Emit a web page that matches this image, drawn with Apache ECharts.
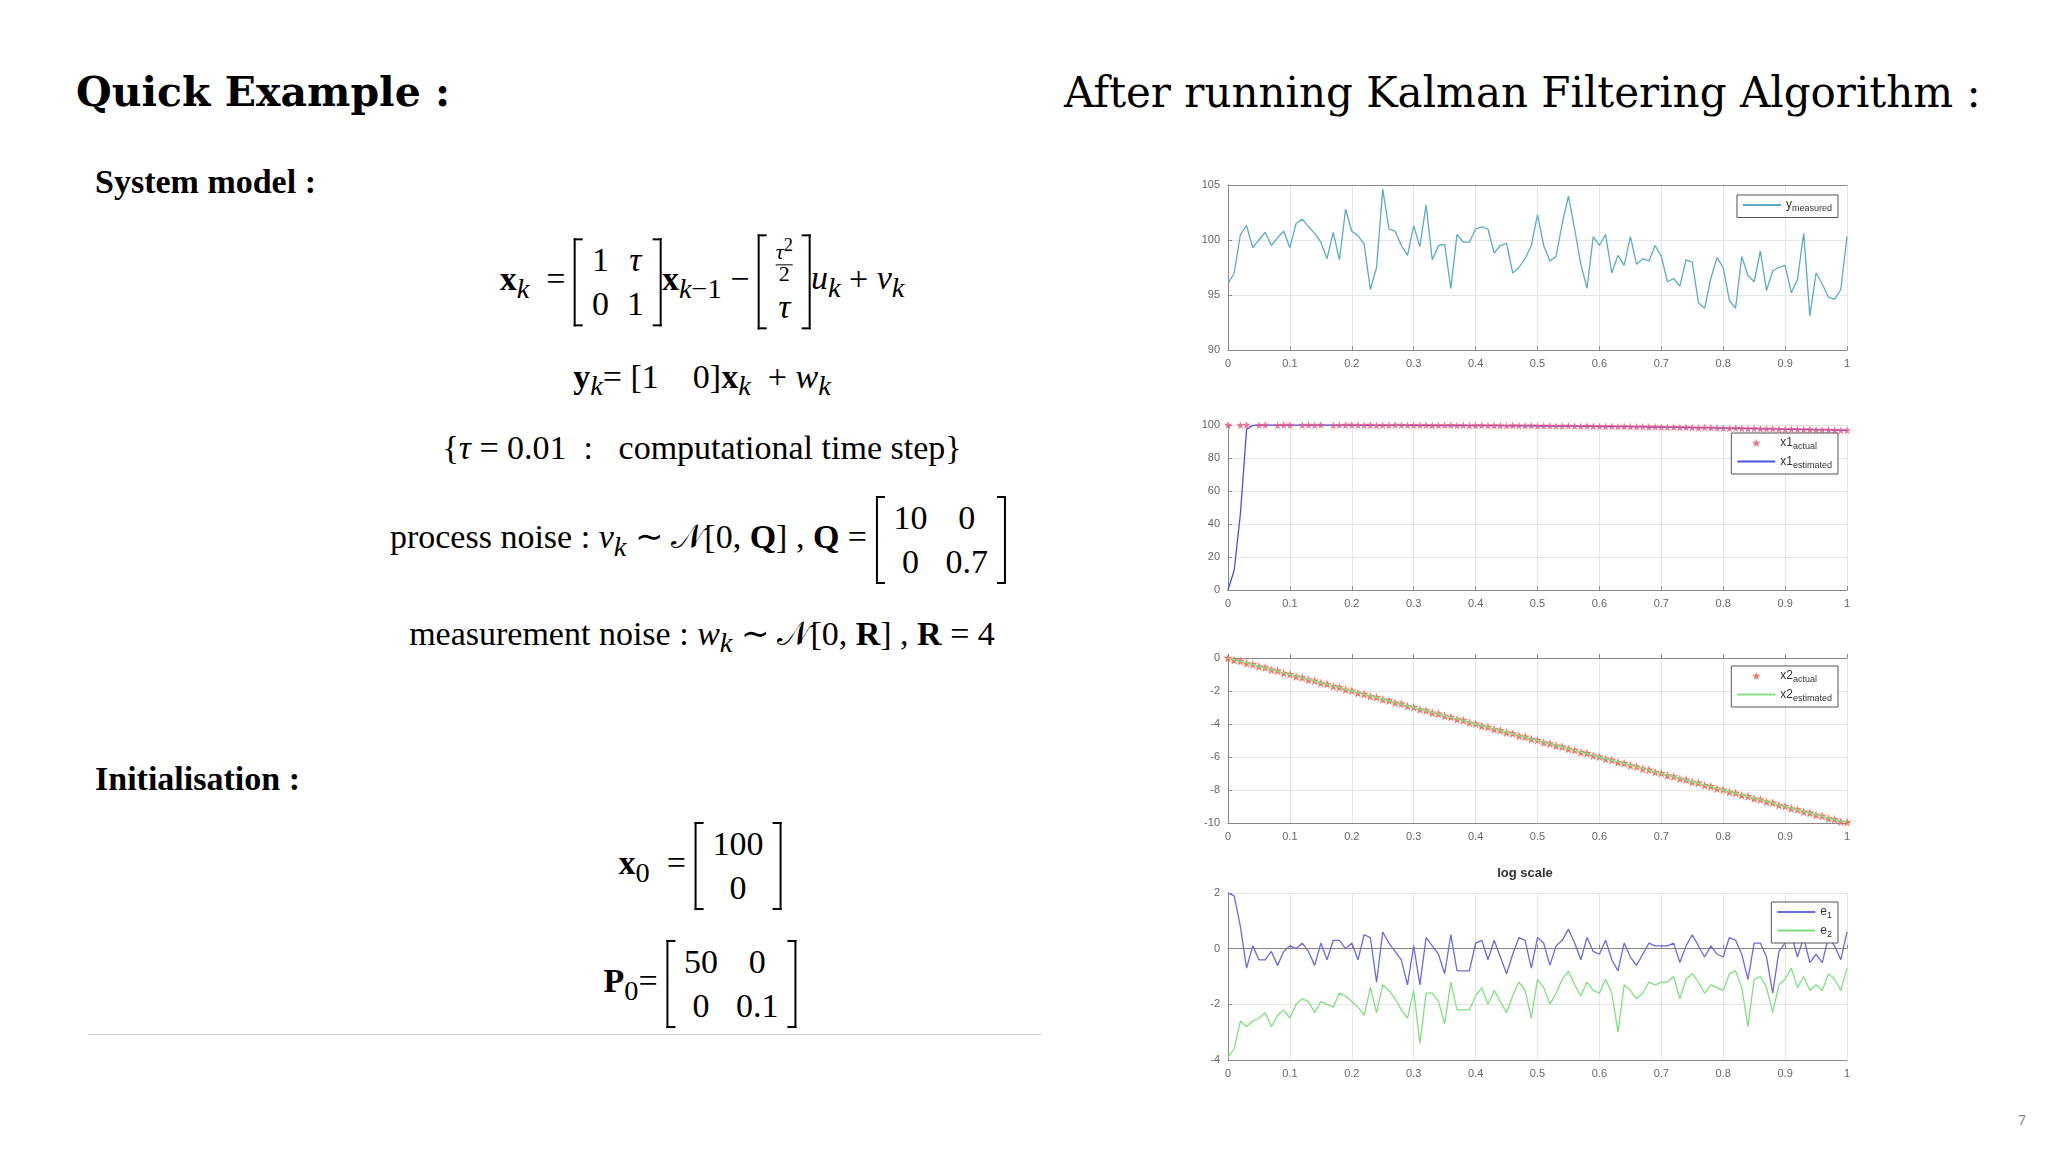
<!DOCTYPE html>
<html><head><meta charset="utf-8">
<script src="https://cdn.jsdelivr.net/npm/echarts@6/dist/echarts.min.js"></script>
<style>
body{margin:0;width:2048px;height:1152px;background:#fff;position:relative;overflow:hidden;font-family:"DejaVu Serif","Liberation Serif",serif;}
.t{position:absolute;white-space:nowrap;color:#000;}
.eq{font-family:"Liberation Serif",serif;font-size:34px;transform:translate(-50%,-50%);}
.b{font-weight:bold;}
.mat{display:inline-block;vertical-align:middle;position:relative;padding:0 9px;}
.mat::before,.mat::after{content:'';position:absolute;top:0;bottom:0;width:7px;border:2px solid #000;}
.mat::before{left:0;border-right:none}
.mat::after{right:0;border-left:none}
.mat table{border-collapse:collapse;}
.mat td{padding:0 9px;text-align:center;line-height:44px;}
.chart{position:absolute;}
</style></head><body>
<div class="t b" style="left:76px;top:68px;font-family:'DejaVu Serif',serif;font-size:41px">Quick Example :</div>
<div class="t" style="left:1064px;top:68px;font-family:'DejaVu Serif',serif;font-size:42px">After running Kalman Filtering Algorithm :</div>

<div class="t b" style="left:95px;top:163px;font-family:'Liberation Serif',serif;font-size:34px">System model :</div>
<div class="t eq" style="left:702px;top:282px"><b>x</b><sub><i>k</i></sub> &nbsp;= <span class="mat"><table><tr><td>1</td><td><i>τ</i></td></tr><tr><td>0</td><td>1</td></tr></table></span><b>x</b><sub><i>k</i>−1</sub> − <span class="mat"><table><tr><td style="line-height:22px;font-size:22px"><span style="border-bottom:1px solid #000"><i>τ</i><sup>2</sup></span><br>2</td></tr><tr><td><i>τ</i></td></tr></table></span><i>u<sub>k</sub></i> + <i>v<sub>k</sub></i></div>
<div class="t eq" style="left:702px;top:380px"><b>y</b><sub><i>k</i></sub>= [1 &nbsp;&nbsp; 0]<b>x</b><sub><i>k</i></sub> &nbsp;+ <i>w<sub>k</sub></i></div>
<div class="t eq" style="left:702px;top:448px">{<i>τ</i> = 0.01 &nbsp;: &nbsp; computational time step}</div>
<div class="t eq" style="left:698px;top:540px">process noise : <i>v<sub>k</sub></i> ∼ 𝒩[0, <b>Q</b>] , <b>Q</b> = <span class="mat"><table><tr><td>10</td><td>0</td></tr><tr><td>0</td><td>0.7</td></tr></table></span></div>
<div class="t eq" style="left:702px;top:636px">measurement noise : <i>w<sub>k</sub></i> ∼ 𝒩[0, <b>R</b>] , <b>R</b> = 4</div>

<div class="t b" style="left:95px;top:760px;font-family:'Liberation Serif',serif;font-size:34px">Initialisation :</div>
<div class="t eq" style="left:700px;top:866px"><b>x</b><sub>0</sub> &nbsp;= <span class="mat"><table><tr><td>100</td></tr><tr><td>0</td></tr></table></span></div>
<div class="t eq" style="left:700px;top:984px"><b>P</b><sub>0</sub>= <span class="mat"><table><tr><td>50</td><td>0</td></tr><tr><td>0</td><td>0.1</td></tr></table></span></div>
<div style="position:absolute;left:88px;top:1034px;width:953px;height:1px;background:#ccc"></div>
<div class="t" style="left:2018px;top:1110px;font-size:14px;color:#888;font-family:'Noto Sans',sans-serif">7</div>

<div id="c1" class="chart" style="left:1180px;top:165px;width:690px;height:215px"></div>
<div id="c2" class="chart" style="left:1180px;top:405px;width:690px;height:215px"></div>
<div id="c3" class="chart" style="left:1180px;top:638px;width:690px;height:215px"></div>
<div id="c4" class="chart" style="left:1180px;top:862px;width:690px;height:228px"></div>
<script>
const time = ['0','0.01','0.02','0.03','0.04','0.05','0.06','0.07','0.08','0.09','0.1','0.11','0.12','0.13','0.14','0.15','0.16','0.17','0.18','0.19','0.2','0.21','0.22','0.23','0.24','0.25','0.26','0.27','0.28','0.29','0.3','0.31','0.32','0.33','0.34','0.35','0.36','0.37','0.38','0.39','0.4','0.41','0.42','0.43','0.44','0.45','0.46','0.47','0.48','0.49','0.5','0.51','0.52','0.53','0.54','0.55','0.56','0.57','0.58','0.59','0.6','0.61','0.62','0.63','0.64','0.65','0.66','0.67','0.68','0.69','0.7','0.71','0.72','0.73','0.74','0.75','0.76','0.77','0.78','0.79','0.8','0.81','0.82','0.83','0.84','0.85','0.86','0.87','0.88','0.89','0.9','0.91','0.92','0.93','0.94','0.95','0.96','0.97','0.98','0.99','1'].map(Number);

const yMeasured = [96,97,100.5,101.3,99.3,100,100.7,99.5,100.2,100.8,99.3,101.5,101.9,101.2,100.6,99.8,98.3,100.7,98.2,102.8,100.8,100.4,99.6,95.5,97.5,104.6,101,100.8,99.5,98.6,101.3,99.4,103.2,98.2,99.5,99.6,95.6,100.5,99.8,99.8,101,101.2,101,98.8,99.5,99.7,97,97.5,98.3,99.5,102.3,99.5,98.1,98.5,101.5,104,101,97.8,95.6,100.3,99.5,100.5,97,98.6,97.7,100.3,97.8,98.3,98.1,99.5,98.5,96.2,96.5,95.8,98.2,98,94.3,93.8,96.5,98.4,97.5,94.5,93.8,98.5,96.8,96.2,99,95.4,97.2,97.5,97.7,95.2,96.4,100.6,93.1,97,96,94.8,94.6,95.5,100.3];

const x1Actual = [100,100.1,99.9,100,100.2,99.9,100,100.1,99.8,100,100,100.1,99.9,100,99.9,100,100.1,99.8,99.9,100,100,99.9,99.9,100,99.7,99.9,99.8,100,99.9,99.8,99.9,99.8,99.9,99.7,99.8,99.8,99.9,99.7,99.8,99.6,99.7,99.8,99.6,99.7,99.6,99.5,99.7,99.6,99.5,99.6,99.4,99.5,99.5,99.3,99.4,99.5,99.3,99.2,99.4,99.2,99.2,99.1,99.2,99,99.1,99,98.9,99,98.8,98.9,98.7,98.6,98.7,98.5,98.6,98.4,98.2,98.4,98.3,98.2,98.1,98,98.1,97.9,97.8,97.9,97.7,97.6,97.7,97.5,97.4,97.5,97.3,97.2,97.3,97.1,97,97.1,96.9,96.8,96.8];
const x1Estimated = [0,12,46,97.5,99.8,99.9,100,100.1,99.9,100,100,100,99.9,100,99.9,100,100,99.9,99.9,100,100,99.9,99.8,99.9,99.8,99.9,99.8,99.9,99.9,99.8,99.9,99.8,99.8,99.7,99.8,99.7,99.8,99.7,99.7,99.6,99.7,99.7,99.6,99.6,99.6,99.5,99.6,99.5,99.5,99.5,99.4,99.5,99.4,99.3,99.4,99.4,99.3,99.2,99.3,99.2,99.1,99.1,99.1,99,99,99,98.9,98.9,98.8,98.8,98.7,98.6,98.6,98.5,98.5,98.4,98.3,98.3,98.2,98.1,98.1,98,98,97.9,97.8,97.8,97.7,97.6,97.6,97.5,97.4,97.4,97.3,97.2,97.2,97.1,97,97,96.9,96.8,96.8];

const x2Actual = [0,-0.12,-0.18,-0.32,-0.38,-0.52,-0.58,-0.72,-0.78,-0.92,-0.98,-1.12,-1.18,-1.32,-1.38,-1.52,-1.58,-1.72,-1.78,-1.92,-1.98,-2.12,-2.18,-2.32,-2.38,-2.52,-2.58,-2.72,-2.78,-2.92,-2.98,-3.12,-3.18,-3.32,-3.38,-3.52,-3.58,-3.72,-3.78,-3.92,-3.98,-4.12,-4.18,-4.32,-4.38,-4.52,-4.58,-4.72,-4.78,-4.92,-4.98,-5.12,-5.18,-5.32,-5.38,-5.52,-5.58,-5.72,-5.78,-5.92,-5.98,-6.12,-6.18,-6.32,-6.38,-6.52,-6.58,-6.72,-6.78,-6.92,-6.98,-7.12,-7.18,-7.32,-7.38,-7.52,-7.58,-7.72,-7.78,-7.92,-7.98,-8.12,-8.18,-8.32,-8.38,-8.52,-8.58,-8.72,-8.78,-8.92,-8.98,-9.12,-9.18,-9.32,-9.38,-9.52,-9.58,-9.72,-9.78,-9.92,-9.95];
const x2Estimated = [0,-0.1,-0.2,-0.3,-0.4,-0.5,-0.6,-0.7,-0.8,-0.9,-1,-1.1,-1.2,-1.3,-1.4,-1.5,-1.6,-1.7,-1.8,-1.9,-2,-2.1,-2.2,-2.3,-2.4,-2.5,-2.6,-2.7,-2.8,-2.9,-3,-3.1,-3.2,-3.3,-3.4,-3.5,-3.6,-3.7,-3.8,-3.9,-4,-4.1,-4.2,-4.3,-4.4,-4.5,-4.6,-4.7,-4.8,-4.9,-5,-5.1,-5.2,-5.3,-5.4,-5.5,-5.6,-5.7,-5.8,-5.9,-6,-6.1,-6.2,-6.3,-6.4,-6.5,-6.6,-6.7,-6.8,-6.9,-7,-7.1,-7.2,-7.3,-7.4,-7.5,-7.6,-7.7,-7.8,-7.9,-8,-8.1,-8.2,-8.3,-8.4,-8.5,-8.6,-8.7,-8.8,-8.9,-9,-9.1,-9.2,-9.3,-9.4,-9.5,-9.6,-9.7,-9.8,-9.9,-9.95];

const e1 = [2,1.9,0.8,-0.7,0.1,-0.4,-0.4,-0.1,-0.6,-0.1,0.1,0,0.2,-0.1,-0.6,0.2,-0.4,0.3,0.3,0,0.2,-0.4,0.5,0.4,-1.2,0.6,0.2,-0.1,-0.4,-1.3,0.1,-1.3,0.4,0.1,-0.2,-0.9,0.5,-0.8,-0.8,-0.8,0.2,0.3,-0.4,0.3,-0.3,-0.9,-0.2,0.4,0.3,-0.7,0.4,0.2,-0.6,0.1,0.3,0.7,0.2,-0.4,0.4,-0.1,-0.2,0.3,-0.4,-0.8,0.2,-0.3,-0.6,-0.2,0.2,0.1,0.1,0.1,0.2,-0.5,0.1,0.5,0.1,-0.3,0.1,-0.2,-0.3,0.4,0.3,-0.2,-1.1,0.2,0.2,-0.3,-1.6,-0.1,0.2,0.5,-0.3,0.4,-0.5,-0.2,-0.5,0.4,0.1,-0.4,0.6];
const e2 = [-3.9,-3.6,-2.6,-2.8,-2.6,-2.5,-2.3,-2.8,-2.4,-2.2,-2.5,-2,-1.8,-1.9,-2.3,-1.9,-2,-2.1,-1.6,-1.7,-1.9,-2.1,-2.4,-1.4,-2.3,-1.3,-1.5,-1.8,-2.2,-2.5,-1.5,-3.4,-1.6,-1.6,-1.9,-2.7,-1.2,-2.2,-2.2,-2.2,-1.7,-1.4,-2,-1.5,-1.9,-2.3,-1.7,-1.2,-1.5,-2.5,-1.1,-1.4,-2,-1.6,-1.1,-0.8,-1.3,-1.7,-1.2,-1.5,-1.6,-1.1,-1.6,-3,-1.3,-1.5,-1.8,-1.6,-1.2,-1.3,-1.2,-1.2,-1,-1.8,-1.1,-0.9,-1.2,-1.6,-1.3,-1.4,-1.5,-0.9,-0.8,-1.4,-2.8,-1.1,-1,-1.4,-2.3,-1.3,-1.1,-0.7,-1.4,-1,-1.5,-1.3,-1.5,-0.9,-1.1,-1.5,-0.7];

const pair = (ys) => ys.map((v, i) => [time[i], v]);
const axisText = { color: '#666', fontSize: 11, fontFamily: 'Liberation Sans' };
const sub = { fontSize: 9, padding: [8, 0, 0, 0], color: '#333' };
const lineIcon = 'path://M0,0H40V2H0Z';
const starIcon = 'path://M0,-5L1.2,-1.6L5,-1.6L2,0.8L3,4.5L0,2.3L-3,4.5L-2,0.8L-5,-1.6L-1.2,-1.6Z';

function base(ymin, ymax, yint, top) {
  return {
    animation: false,
    grid: { left: 48, right: 23, top: top, bottom: 30 },
    xAxis: [{
      type: 'value', min: 0, max: 1, interval: 0.1,
      axisLine: { lineStyle: { color: '#888' } },
      axisTick: { inside: true, length: 4, lineStyle: { color: '#888' } },
      axisLabel: Object.assign({ formatter: (v) => String(Math.round(v * 10) / 10) }, axisText),
      splitLine: { show: true, lineStyle: { color: '#e6e6e6' } }
    }, { type: 'value', position: 'top', min: 0, max: 1, axisLine: { show: true, lineStyle: { color: '#888' } }, axisTick: { show: false }, axisLabel: { show: false }, splitLine: { show: false } }],
    yAxis: [{
      type: 'value', min: ymin, max: ymax, interval: yint,
      axisLine: { show: true, lineStyle: { color: '#888' } },
      axisTick: { show: true, inside: true, length: 4, lineStyle: { color: '#888' } },
      axisLabel: axisText,
      splitLine: { show: true, lineStyle: { color: '#e6e6e6' } }
    }, { type: 'value', position: 'right', axisLine: { show: true, lineStyle: { color: '#888' } }, axisTick: { show: false }, axisLabel: { show: false }, splitLine: { show: false } }]
  };
}
function legend(items, top) {
  return {
    right: 32, top: top, orient: 'vertical', itemWidth: 38, itemHeight: 8, itemGap: 4,
    backgroundColor: '#fff', borderColor: '#555', borderWidth: 1, padding: [4, 6],
    data: items.map(([name, icon]) => ({ name: name, icon: icon })),
    formatter: (n) => { const p = n.split('_'); return p[0] + '{s|' + p[1] + '}'; },
    textStyle: { fontSize: 12, color: '#333', rich: { s: sub } }
  };
}

const o1 = base(90, 105, 5, 20);
o1.legend = legend([['y_measured', lineIcon]], 30);
o1.series = [{ name: 'y_measured', type: 'line', data: pair(yMeasured), symbol: 'none', lineStyle: { color: '#5aaac8', width: 1.3 }, itemStyle: { color: '#5aaac8' } }];

const o2 = base(0, 100, 20, 20);
o2.legend = legend([['x1_actual', starIcon], ['x1_estimated', lineIcon]], 28);
o2.series = [
  { name: 'x1_actual', type: 'scatter', data: pair(x1Actual), symbol: starIcon, symbolSize: 8, itemStyle: { color: '#f0507a' }, z: 3 },
  { name: 'x1_estimated', type: 'line', data: pair(x1Estimated), symbol: 'none', lineStyle: { color: '#5050e0', width: 1.3 }, itemStyle: { color: '#5050e0' }, z: 2 }
];

const o3 = base(-10, 0, 2, 20);
o3.legend = legend([['x2_actual', starIcon], ['x2_estimated', lineIcon]], 28);
o3.series = [
  { name: 'x2_estimated', type: 'line', data: pair(x2Estimated), symbol: 'none', lineStyle: { color: '#88e088', width: 1.3 }, itemStyle: { color: '#88e088' } },
  { name: 'x2_actual', type: 'scatter', data: pair(x2Actual), symbol: starIcon, symbolSize: 9, itemStyle: { color: '#f0604a', opacity: 0.85 } }
];

const o4 = base(-4, 2, 2, 31);
o4.title = { text: 'log scale', left: 'center', top: 0, textStyle: { fontSize: 13, fontWeight: 'bold', color: '#333', fontFamily: 'Liberation Sans' } };
o4.legend = legend([['e_1', lineIcon], ['e_2', lineIcon]], 40);
o4.series = [
  { name: 'e_1', type: 'line', data: pair(e1), symbol: 'none', lineStyle: { color: '#6a6ae0', width: 1.3 }, itemStyle: { color: '#6a6ae0' } },
  { name: 'e_2', type: 'line', data: pair(e2), symbol: 'none', lineStyle: { color: '#80e080', width: 1.3 }, itemStyle: { color: '#80e080' } }
];

[['c1', o1], ['c2', o2], ['c3', o3], ['c4', o4]].forEach(([id, o]) => {
  echarts.init(document.getElementById(id)).setOption(o);
});
</script>
</body></html>
